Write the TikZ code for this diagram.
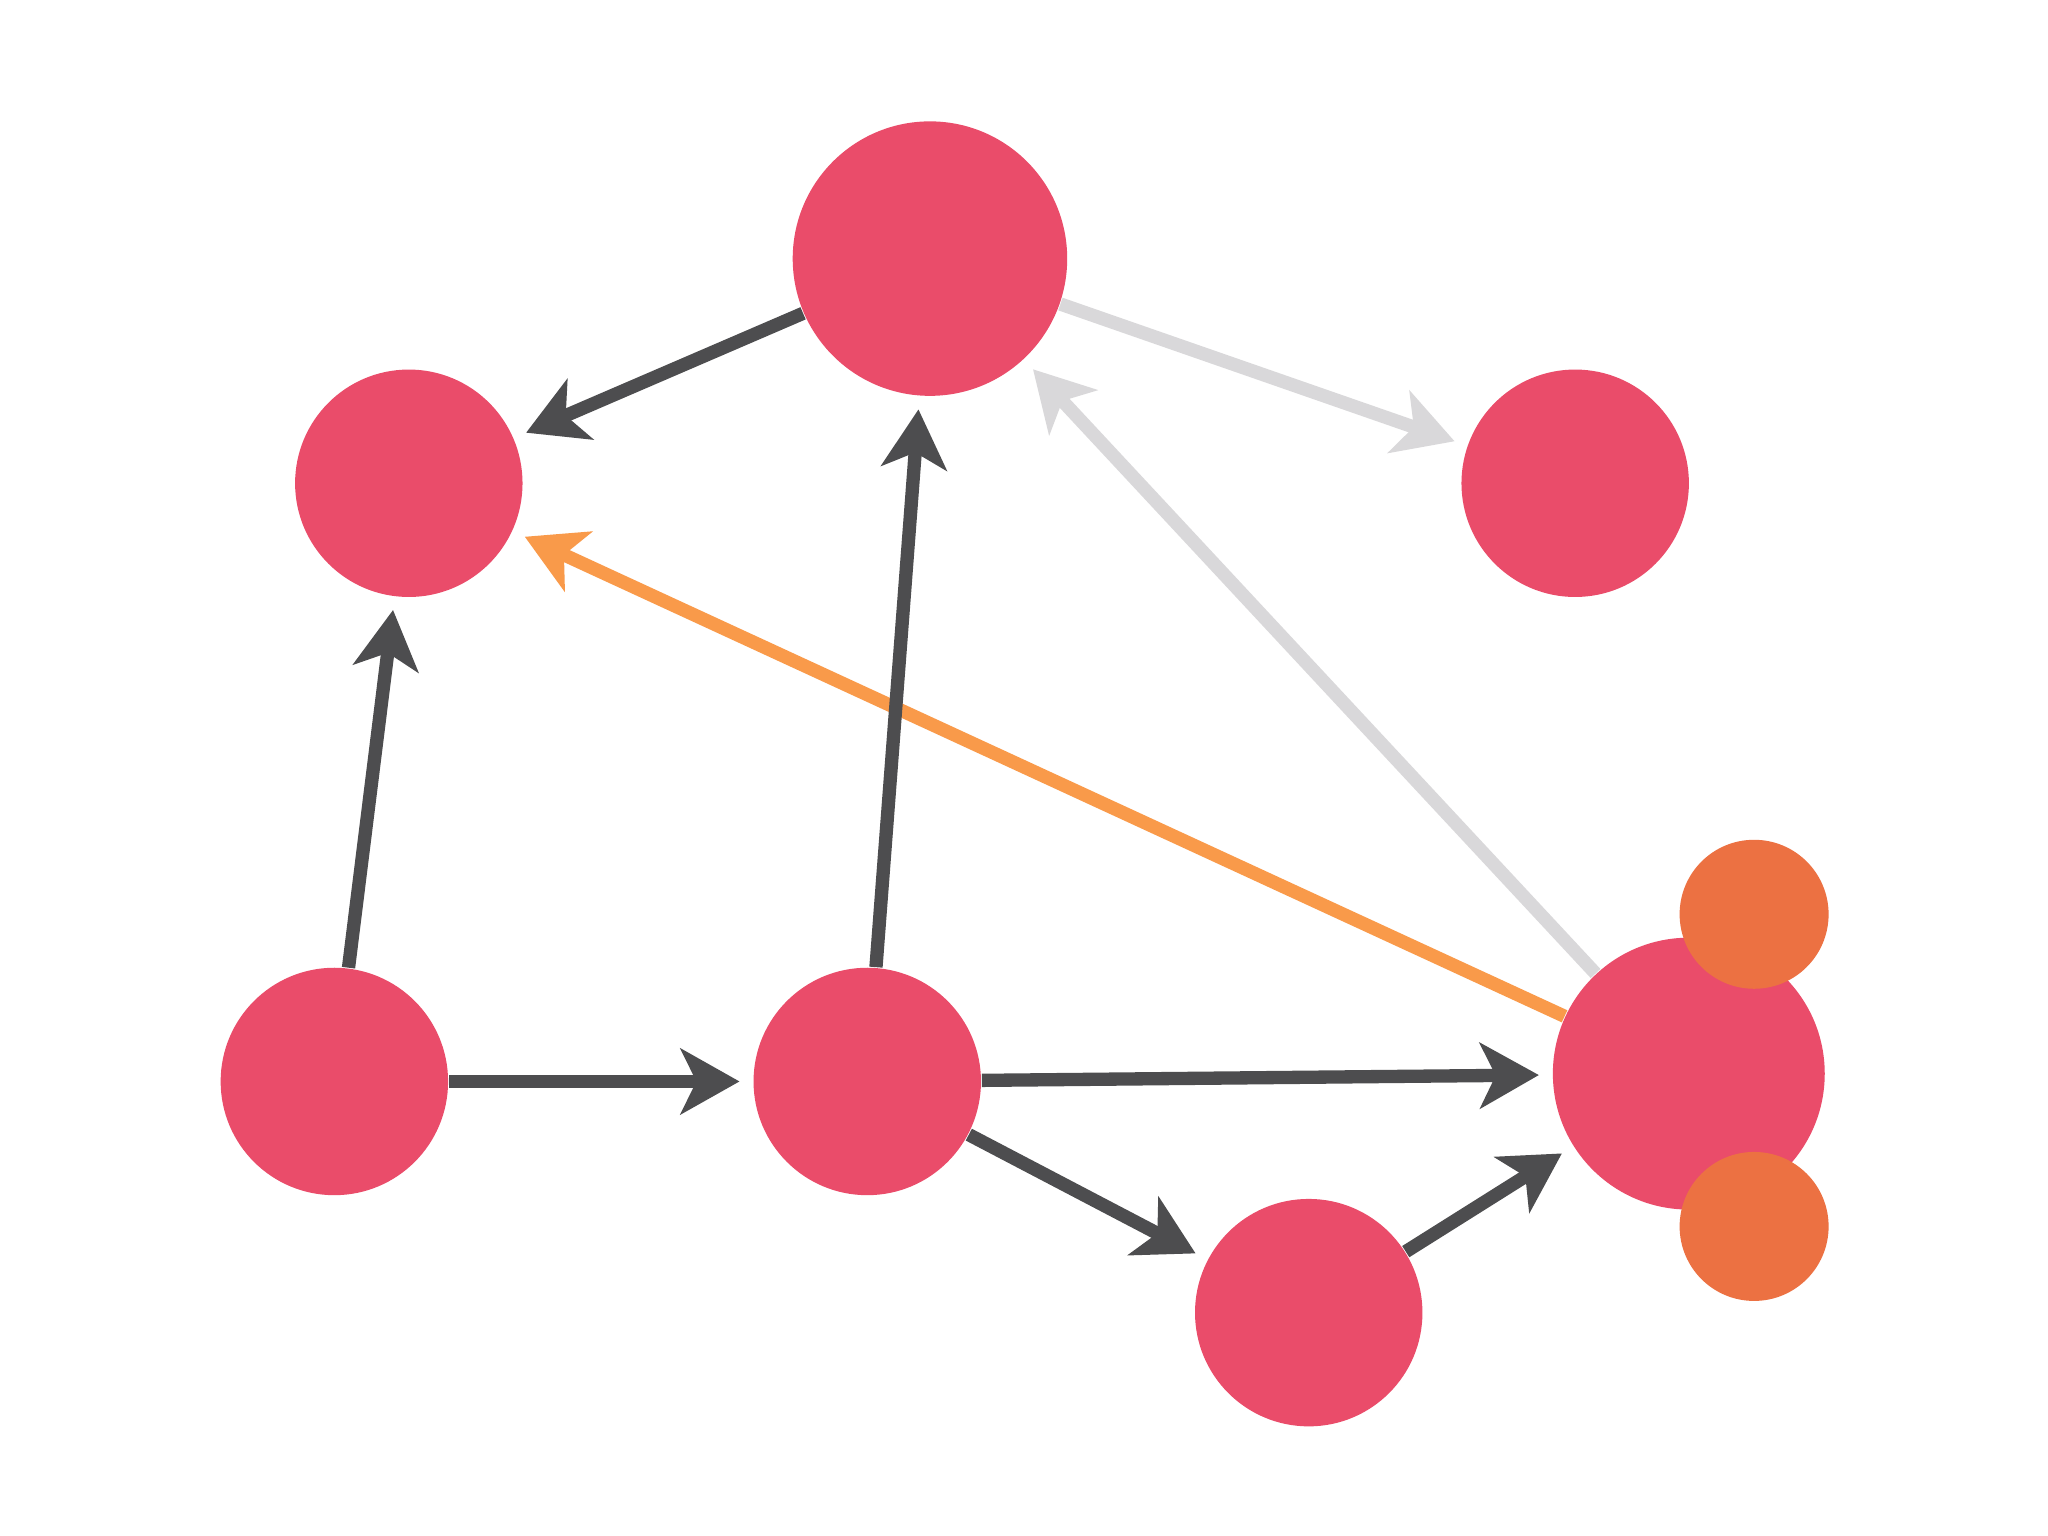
\documentclass[tikz,border=0pt]{standalone}
\usetikzlibrary{arrows.meta}
\definecolor{pink}{HTML}{EA4C6A}
\definecolor{dot}{HTML}{EC7142}
\definecolor{org}{HTML}{F99A4A}
\definecolor{dk}{HTML}{4D4D4F}
\definecolor{lg}{HTML}{D9D8DA}
\begin{document}
\begin{tikzpicture}[x=0.01cm,y=-0.01cm,
  vtx/.style={circle,fill=pink,inner sep=0,minimum size=#1*0.02cm},
  sdot/.style={circle,fill=dot,inner sep=0,minimum size=1.14cm},
  edge/.style={line width=2.9pt,-{Stealth[length=0.45cm,width=0.5cm,inset=0.12cm]},shorten >=0.1cm},
  dark/.style={edge,draw=dk},
  light/.style={edge,draw=lg},
  orng/.style={edge,draw=org}]
\useasboundingbox (0,0) rectangle (1568,1176);
\fill[white] (0,0) rectangle (1568,1176);
\node[vtx=105] (T) at (712,198) {};
\node[vtx=87] (L) at (313,370) {};
\node[vtx=87] (R) at (1206,370) {};
\node[vtx=87] (A) at (256,828) {};
\node[vtx=87] (B) at (664,828) {};
\node[vtx=104] (C) at (1293,822) {};
\node[vtx=87] (D) at (1002,1005) {};
\begin{scope}[on background layer/.try]
\end{scope}
\draw[light] (T) -- (R);
\draw[light] (C) -- (T);
\draw[orng] (C) -- (L);
\draw[dark] (T) -- (L);
\draw[dark] (A) -- (L);
\draw[dark] (A) -- (B);
\draw[dark] (B) -- (T);
\draw[dark] (B) -- (C);
\draw[dark] (B) -- (D);
\draw[dark] (D) -- (C);
\node[sdot] (S1) at (1343,700) {};
\node[sdot] (S2) at (1343,939) {};
\end{tikzpicture}
\end{document}
